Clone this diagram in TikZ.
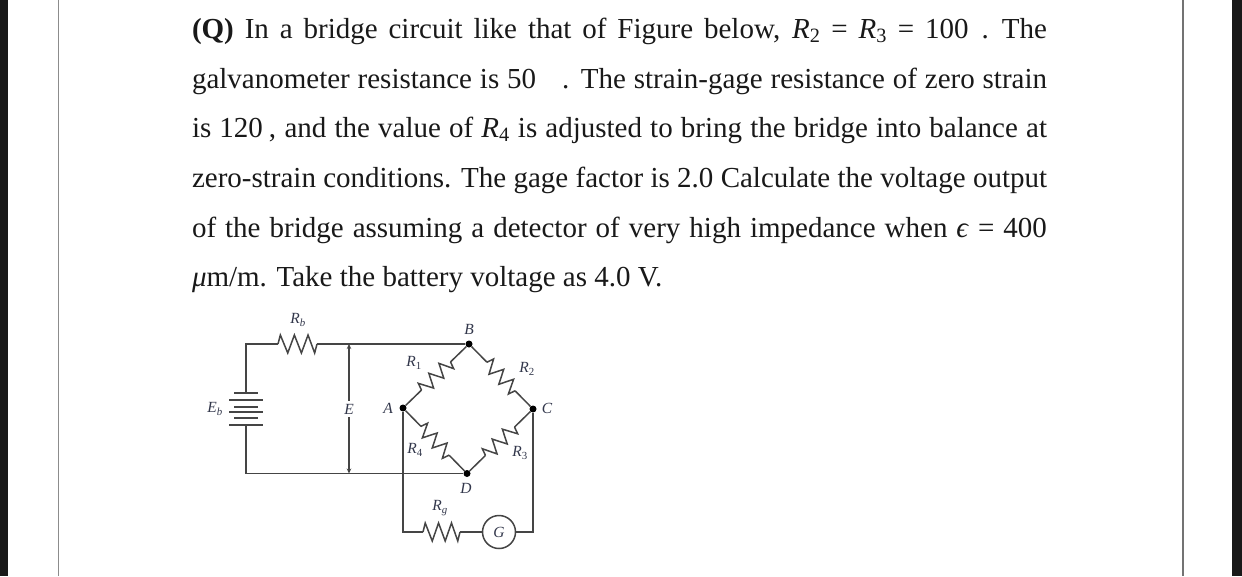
\documentclass[tikz,border=0pt]{standalone}
\usepackage{fontspec}
\setmainfont{Liberation Serif}
\usetikzlibrary{calc,arrows.meta}
\definecolor{ink}{gray}{0.1}
\definecolor{wire}{gray}{0.27}
\definecolor{lab}{rgb}{0.2,0.22,0.3}
\newcommand{\zzres}[3][8]{% resistor between two named points, amplitude in px
  \draw[wirepath] (#2)
  -- ($(#2)!.06!(#3)!#1pt!90:(#3)$)
  -- ($(#2)!.25!(#3)!#1pt!-90:(#3)$)
  -- ($(#2)!.42!(#3)!#1pt!90:(#3)$)
  -- ($(#2)!.60!(#3)!#1pt!-90:(#3)$)
  -- ($(#2)!.77!(#3)!#1pt!90:(#3)$)
  -- ($(#2)!.94!(#3)!#1pt!-90:(#3)$)
  -- (#3);}
\newcommand{\tline}[2]{\hbox to #1pt{#2}}
\newcommand{\rr}[1]{\textit{R}\textsubscript{#1}}
\begin{document}
\begin{tikzpicture}[x=1pt,y=-1pt,
  wirepath/.style={draw=wire,line width=1.5pt,line join=miter},
  textline/.style={anchor=base west,inner sep=0,outer sep=0,text=ink,font=\fontsize{29}{31}\selectfont},
  lbl/.style={inner sep=0,text=lab,font=\fontsize{15.5}{17}\selectfont\itshape},
  dot/.style={circle,fill=black,inner sep=0,minimum size=7pt},
  cell/.style={draw=wire,line width=1.5pt},
  meas/.style={draw=wire,line width=1.3pt,{Stealth[length=5pt,width=4.5pt]}-{Stealth[length=5pt,width=4.5pt]}}]
\useasboundingbox (0,0) rectangle (1242,576);
\fill[white] (0,0) rectangle (1242,576);
\fill[black!90] (0,0) rectangle (8,576);
\fill[black!90] (1232,0) rectangle (1242,576);
\draw[black!45,line width=1.6pt] (58.5,0) -- (58.5,576);
\draw[black!55,line width=1.2pt] (1183,0) -- (1183,576);
% text
\node[textline] (l1) at (192,38) {\tline{855}{\textbf{(Q)} In a bridge circuit like that of Figure below, \rr{2} = \rr{3} = 100\hspace{13pt}.\hspace{13pt}The}};
\node[textline] (l2) at (192,88) {\tline{855}{galvanometer resistance is 50\hspace{26pt}. The strain-gage resistance of zero strain}};
\node[textline] (l3) at (192,137) {\tline{855}{is 120\hspace{6pt}, and the value of \rr{4} is adjusted to bring the bridge into balance at}};
\node[textline] (l4) at (192,187) {\tline{855}{zero-strain conditions. The gage factor is 2.0 Calculate the voltage output}};
\node[textline] (l5) at (192,237) {\tline{855}{of the bridge assuming a detector of very high impedance when \textit{ϵ} = 400}};
\node[textline] (l6) at (192,286) {\textit{μ}m/m. Take the battery voltage as 4.0 V.};
% junctions
\node[dot] (A) at (403,408) {};
\node[dot] (B) at (469,344) {};
\node[dot] (C) at (533,409) {};
\node[dot] (D) at (467,473.5) {};
\coordinate (TL) at (246,344);
\coordinate (BL) at (246,473.5);
\coordinate (P) at (246,393);
\coordinate (N) at (246,425);
\coordinate (Rb1) at (278,344);
\coordinate (Rb2) at (317,344);
\coordinate (Ga) at (403,532);
\coordinate (Gc) at (533,532);
\coordinate (Rg1) at (423,532);
\coordinate (Rg2) at (460,532);
\coordinate (Et) at (349,344);
\coordinate (Eb) at (349,473.5);
\coordinate (R1a) at ($(A)!.28!(B)$);
\coordinate (R1b) at ($(A)!.72!(B)$);
\coordinate (R2a) at ($(B)!.28!(C)$);
\coordinate (R2b) at ($(B)!.72!(C)$);
\coordinate (R3a) at ($(C)!.28!(D)$);
\coordinate (R3b) at ($(C)!.72!(D)$);
\coordinate (R4a) at ($(D)!.28!(A)$);
\coordinate (R4b) at ($(D)!.72!(A)$);
\node[circle,draw=wire,line width=1.5pt,minimum size=33pt,inner sep=0,text=lab,font=\fontsize{15.5}{17}\selectfont\itshape] (G) at (499,532) {G};
% wires
\draw[wirepath] (N) -- (BL) -- (D);
\draw[wirepath] (P) -- (TL) -- (Rb1);
\draw[wirepath] (Rb2) -- (B);
\zzres[9]{Rb1}{Rb2}
\draw[wirepath] (A) -- (R1a); \zzres[7]{R1a}{R1b} \draw[wirepath] (R1b) -- (B);
\draw[wirepath] (B) -- (R2a); \zzres[7]{R2a}{R2b} \draw[wirepath] (R2b) -- (C);
\draw[wirepath] (C) -- (R3a); \zzres[7]{R3a}{R3b} \draw[wirepath] (R3b) -- (D);
\draw[wirepath] (D) -- (R4a); \zzres[7]{R4a}{R4b} \draw[wirepath] (R4b) -- (A);
\draw[wirepath] (A) -- (Ga) -- (Rg1);
\zzres[9]{Rg1}{Rg2}
\draw[wirepath] (Rg2) -- (G);
\draw[wirepath] (G) -- (Gc) -- (C);
% battery
\foreach \yy/\hw in {393/12,400/17,407/12,412/17,418/12,425/17}
  \draw[cell] (246-\hw,\yy) -- (246+\hw,\yy);
% E arrow
\draw[meas] (Et) -- (Eb);
\node[lbl,fill=white,inner ysep=3pt,inner xsep=2pt] (Elab) at (349,409) {E};
% labels
\node[lbl] (lEb) at (215,409) {E\textsubscript{b}};
\node[lbl] (lRb) at (298,320) {R\textsubscript{b}};
\node[lbl] (lB) at (469,329) {B};
\node[lbl] (lA) at (388,408) {A};
\node[lbl] (lC) at (547,408) {C};
\node[lbl] (lD) at (466,488) {D};
\node[lbl] (lR1) at (414,363) {R\textsubscript{\upshape 1}};
\node[lbl] (lR2) at (527,369) {R\textsubscript{\upshape 2}};
\node[lbl] (lR3) at (520,453) {R\textsubscript{\upshape 3}};
\node[lbl] (lR4) at (415,450) {R\textsubscript{\upshape 4}};
\node[lbl] (lRg) at (440,508) {R\textsubscript{g}};
\end{tikzpicture}
\end{document}
